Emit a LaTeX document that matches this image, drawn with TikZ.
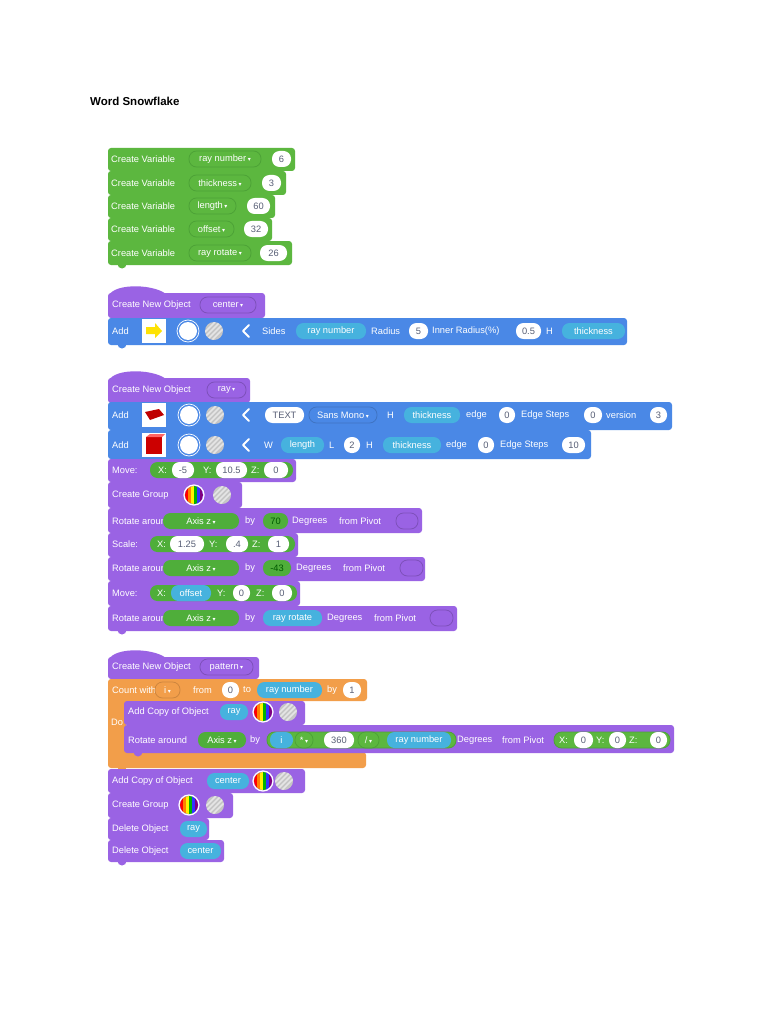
\documentclass[tikz,border=0pt]{standalone}
\usepackage{fontspec}
\setmainfont{Liberation Sans}
\newfontfamily\dv{DejaVu Sans}
\definecolor{grn}{HTML}{5CB73F}
\definecolor{grnd}{HTML}{4DA337}
\definecolor{pur}{HTML}{9A63E4}
\definecolor{blu}{HTML}{4A88E6}
\definecolor{org}{HTML}{F29E4A}
\definecolor{cyn}{HTML}{46B2DE}
\definecolor{pgr}{HTML}{4FAE3A}
\definecolor{wtx}{HTML}{575E75}
\newcounter{nn}
\newcommand\dd{\,{\dv\fontsize{6}{6}\selectfont▾}}
\tikzset{
 tx/.style={anchor=west,inner sep=0pt,text=white,font=\fontsize{9.3}{10}\selectfont},
 pbase/.style={rounded corners=7.5pt,minimum height=16pt,inner sep=0pt,font=\fontsize{9.3}{10}\selectfont,text=white},
 pw/.style={pbase,fill=white,text=wtx},
 pc/.style={pbase,fill=cyn},
 pgb/.style={pbase,fill=grn,draw=grnd,line width=0.8pt},
 pgi/.style={pbase,fill=pgr},
 pgk/.style={pbase,fill=pgr,text=green!35!black},
 pp/.style={pbase,fill=pur,draw=pur!82!black,line width=0.8pt},
 pb/.style={pbase,fill=blu,draw=blu!85!black,line width=0.8pt},
 po/.style={pbase,fill=org,draw=org!85!black,line width=0.8pt},
}
\newcommand\blk[5]{\fill[#1,rounded corners=3pt] (#2,#4) rectangle (#3,#5);}
\newcommand\lab[3]{\stepcounter{nn}\node[tx] (t\thenn) at (#1,#2) {#3};}
\newcommand\pil[5]{\stepcounter{nn}\node[#1,minimum width={#3pt-#2pt}] (p\thenn) at ({(#2+#3)/2},#4) {#5};}
\newcommand\nub[3]{\fill[#1] (122,{#3-1}) circle (4.5);}
\newcommand\hatblk[3]{\fill[#1] (108,{#3+6}) .. controls (108,{#3-10}) and (152,{#3-10}) .. (166,{#3+1}) -- (166,{#3+6}) -- cycle;}
\newcommand\wcirc[2]{\fill[white] (#1,#2) circle (9);\draw[white,line width=0.7pt] (#1,#2) circle (11);}
\newcommand\gcirc[2]{\fill[gray!45] (#1,#2) circle (9);
 \begin{scope}\clip (#1,#2) circle (9);
 \foreach \k in {-8,-3,2,7}{\draw[white!80!gray,line width=1.5pt] ({#1+\k-9},{#2+9}) -- ({#1+\k+9},{#2-9});}
 \end{scope}}
\newcommand\rcirc[2]{\begin{scope}\clip (#1,#2) circle (9);
 \fill[red] ({#1-9},{#2-9}) rectangle ({#1-6},{#2+9});
 \fill[orange] ({#1-6},{#2-9}) rectangle ({#1-3},{#2+9});
 \fill[yellow] ({#1-3},{#2-9}) rectangle ({#1},{#2+9});
 \fill[green!70!black] ({#1},{#2-9}) rectangle ({#1+3},{#2+9});
 \fill[blue!80] ({#1+3},{#2-9}) rectangle ({#1+6},{#2+9});
 \fill[violet] ({#1+6},{#2-9}) rectangle ({#1+9},{#2+9});
 \end{scope}\draw[white,line width=1.2pt] (#1,#2) circle (10);}
\newcommand\chev[1]{\draw[white,line width=1.8pt,line cap=round,line join=round] (249,{#1-6}) -- (243,#1) -- (249,{#1+6});}
\newcommand\imgbox[1]{\fill[white] (142,{#1-12}) rectangle (166,{#1+12});}
\begin{document}
\begin{tikzpicture}[x=1pt,y=-1pt]
\useasboundingbox (0,0) rectangle (768,1024);
\fill[white] (0,0) rectangle (768,1024);
\node[anchor=west,inner sep=0pt,font=\bfseries\fontsize{11.5}{12}\selectfont] (title) at (90,101) {Word Snowflake};
% green variables
\blk{grn}{108}{295}{148}{171}\blk{grn}{108}{286}{171}{195}\blk{grn}{108}{275}{195}{218}\blk{grn}{108}{272}{218}{241}\blk{grn}{108}{292}{241}{265}\nub{grn}{0}{265}
\lab{111}{159}{Create Variable}\pil{pgb}{189}{261}{159}{ray number\dd}\pil{pw}{272}{291}{159}{6}
\lab{111}{183}{Create Variable}\pil{pgb}{189}{251}{183}{thickness\dd}\pil{pw}{262}{281}{183}{3}
\lab{111}{206}{Create Variable}\pil{pgb}{189}{236}{206}{length\dd}\pil{pw}{247}{270}{206}{60}
\lab{111}{229}{Create Variable}\pil{pgb}{189}{234}{229}{offset\dd}\pil{pw}{244}{268}{229}{32}
\lab{111}{253}{Create Variable}\pil{pgb}{189}{251}{253}{ray rotate\dd}\pil{pw}{260}{287}{253}{26}
% center
\hatblk{pur}{0}{293}\blk{pur}{108}{265}{293}{318}
\lab{112}{305}{Create New Object}\pil{pp}{200}{256}{305}{center\dd}
\blk{blu}{108}{627}{318}{345}\nub{blu}{0}{345}
\lab{112}{331}{Add}\imgbox{331}
\fill[yellow!85!orange] (146,327) -- (155,327) -- (155,323) -- (162,331) -- (155,338) -- (155,334) -- (146,334) -- cycle;
\wcirc{188}{331}\gcirc{214}{331}\chev{331}
\lab{262}{331}{Sides}\pil{pc}{296}{366}{331}{ray number}\lab{371}{331}{Radius}\pil{pw}{409}{428}{331}{5}
\lab{432}{331}{Inner Radius(\%)}\pil{pw}{516}{541}{331}{0.5}\lab{546}{331}{H}\pil{pc}{562}{625}{331}{thickness}
% ray
\hatblk{pur}{0}{378}\blk{pur}{108}{250}{378}{403}
\lab{112}{390}{Create New Object}\pil{pp}{207}{246}{390}{ray\dd}
\blk{blu}{108}{672}{402}{430}
\lab{112}{415}{Add}\imgbox{415}
\fill[red!75!black] (145,412) -- (159,409) -- (164,415) -- (150,420) -- cycle;
\wcirc{189}{415}\gcirc{215}{415}\chev{415}
\pil{pw}{265}{304}{415}{TEXT}\pil{pb}{309}{377}{415}{Sans Mono\dd}\lab{387}{415}{H}\pil{pc}{404}{460}{415}{thickness}
\lab{466}{415}{edge}\pil{pw}{499}{515}{415}{0}\lab{521}{415}{Edge Steps}\pil{pw}{584}{602}{415}{0}
\lab{606}{415}{version}\pil{pw}{650}{667}{415}{3}
\blk{blu}{108}{591}{430}{459}
\lab{112}{445}{Add}\imgbox{445}
\fill[red!80!black] (146,437) rectangle (162,454);\fill[red!60] (146,437) -- (150,434) -- (165,434) -- (162,437) -- cycle;
\wcirc{189}{445}\gcirc{215}{445}\chev{445}
\lab{264}{445}{W}\pil{pc}{281}{324}{445}{length}\lab{329}{445}{L}\pil{pw}{344}{360}{445}{2}\lab{366}{445}{H}
\pil{pc}{383}{441}{445}{thickness}\lab{446}{445}{edge}\pil{pw}{478}{494}{445}{0}\lab{500}{445}{Edge Steps}\pil{pw}{562}{585}{445}{10}
\blk{pur}{108}{296}{459}{482}
\lab{112}{470}{Move:}\pil{pgi}{150}{293}{470}{}\lab{158}{470}{X:}\pil{pw}{172}{194}{470}{-5}\lab{203}{470}{Y:}
\pil{pw}{216}{247}{470}{10.5}\lab{251}{470}{Z:}\pil{pw}{264}{288}{470}{0}
\blk{pur}{108}{242}{482}{508}
\lab{112}{495}{Create Group}\rcirc{194}{495}\gcirc{222}{495}
\blk{pur}{108}{422}{508}{533}
\lab{112}{521}{Rotate around}\pil{pgi}{163}{239}{521}{Axis z\dd}\lab{245}{521}{by}\pil{pgk}{263}{288}{521}{70}
\lab{292}{521}{Degrees}\lab{339}{521}{from Pivot}\pil{pp}{396}{418}{521}{}
\blk{pur}{108}{298}{533}{557}
\lab{112}{544}{Scale:}\pil{pgi}{150}{295}{544}{}\lab{157}{544}{X:}\pil{pw}{170}{204}{544}{1.25}\lab{209}{544}{Y:}
\pil{pw}{226}{248}{544}{.4}\lab{252}{544}{Z:}\pil{pw}{268}{289}{544}{1}
\blk{pur}{108}{425}{557}{581}
\lab{112}{568}{Rotate around}\pil{pgi}{163}{239}{568}{Axis z\dd}\lab{245}{568}{by}\pil{pgk}{263}{291}{568}{-43}
\lab{296}{568}{Degrees}\lab{343}{568}{from Pivot}\pil{pp}{400}{423}{568}{}
\blk{pur}{108}{300}{581}{606}
\lab{112}{593}{Move:}\pil{pgi}{150}{297}{593}{}\lab{157}{593}{X:}\pil{pc}{171}{211}{593}{offset}\lab{217}{593}{Y:}
\pil{pw}{233}{250}{593}{0}\lab{256}{593}{Z:}\pil{pw}{272}{292}{593}{0}
\blk{pur}{108}{457}{606}{631}\nub{pur}{0}{631}
\lab{112}{618}{Rotate around}\pil{pgi}{163}{239}{618}{Axis z\dd}\lab{245}{618}{by}\pil{pc}{263}{322}{618}{ray rotate}
\lab{327}{618}{Degrees}\lab{374}{618}{from Pivot}\pil{pp}{430}{453}{618}{}
% pattern
\hatblk{pur}{0}{657}\blk{pur}{108}{259}{657}{679}
\lab{112}{667}{Create New Object}\pil{pp}{200}{253}{667}{pattern\dd}
\fill[org,rounded corners=3pt] (108,679) -- (367,679) -- (367,701) -- (126,701) -- (126,752) -- (366,752) -- (366,768) -- (108,768) -- cycle;
\lab{112}{690}{Count with}\pil{po}{155}{180}{690}{i\dd}\lab{193}{690}{from}\pil{pw}{222}{239}{690}{0}\lab{243}{690}{to}
\pil{pc}{257}{322}{690}{ray number}\lab{327}{690}{by}\pil{pw}{343}{361}{690}{1}
\lab{111}{722}{Do}
\blk{pur}{124}{305}{701}{725}
\lab{128}{712}{Add Copy of Object}\pil{pc}{220}{248}{712}{ray}\rcirc{263}{712}\gcirc{288}{712}
\blk{pur}{124}{674}{725}{753}\fill[pur] (138,752) circle (4.5);
\lab{128}{740}{Rotate around}\pil{pgi}{198}{246}{740}{Axis z\dd}\lab{250}{740}{by}
\pil{pgb}{267}{456}{740}{}\pil{pc}{270}{293}{740}{i}\pil{pgb}{295}{313}{740}{*\dd}\pil{pw}{324}{354}{740}{360}
\pil{pgb}{358}{379}{740}{/\dd}\pil{pc}{387}{451}{740}{ray number}
\lab{457}{740}{Degrees}\lab{502}{740}{from Pivot}\pil{pgb}{554}{670}{740}{}
\lab{559}{740}{X:}\pil{pw}{574}{593}{740}{0}\lab{596}{740}{Y:}\pil{pw}{609}{626}{740}{0}\lab{629}{740}{Z:}\pil{pw}{650}{667}{740}{0}
\nub{org}{0}{768}
\blk{pur}{108}{305}{769}{793}
\lab{112}{781}{Add Copy of Object}\pil{pc}{207}{249}{781}{center}\rcirc{263}{781}\gcirc{284}{781}
\blk{pur}{108}{233}{793}{818}
\lab{112}{805}{Create Group}\rcirc{189}{805}\gcirc{215}{805}
\blk{pur}{108}{209}{818}{840}
\lab{112}{829}{Delete Object}\pil{pc}{180}{207}{829}{ray}
\blk{pur}{108}{224}{840}{862}\nub{pur}{0}{862}
\lab{112}{851}{Delete Object}\pil{pc}{180}{221}{851}{center}
\end{tikzpicture}
\end{document}
